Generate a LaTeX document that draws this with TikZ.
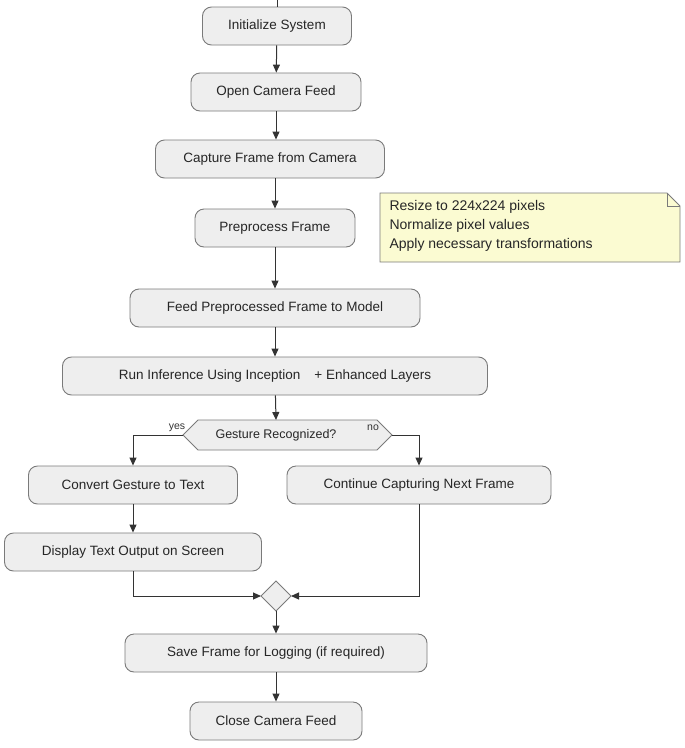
\documentclass[tikz,border=0pt]{standalone}
\usepackage{fontspec}
\setmainfont{Liberation Sans}
\usetikzlibrary{arrows.meta}
\definecolor{actfill}{HTML}{EEEEEE}
\definecolor{actline}{HTML}{7A7A7A}
\definecolor{notefill}{HTML}{FBFBD2}
\tikzset{
  act/.style={draw=actline, fill=actfill, rounded corners=9pt, line width=0.9pt,
    minimum height=38pt, inner xsep=10pt, font=\fontsize{13.5}{16}\selectfont, text=black!85},
  arrow/.style={-{Triangle[length=8pt,width=7pt]}, line width=1pt, draw=black!80},
  lbl/.style={font=\fontsize{10.5}{12}\selectfont, text=black!80}
}
\begin{document}
\begin{tikzpicture}[x=1pt,y=-1pt]
\useasboundingbox (0,0) rectangle (685,748);
\node[act, minimum width=149pt] (init) at (277,26) {Initialize System};
\node[act, minimum width=170pt] (open) at (276,92) {Open Camera Feed};
\node[act, minimum width=229pt] (cap) at (270,159) {Capture Frame from Camera};
\node[act, minimum width=160pt] (pre) at (275,228) {Preprocess Frame};
\node[act, minimum width=290pt] (feed) at (275,308) {Feed Preprocessed Frame to Model};
\node[act, minimum width=425pt] (run) at (275,376) {Run Inference Using Inception\hspace{14pt}+ Enhanced Layers};
\draw[actline, fill=actfill, line width=0.9pt] (183,435) -- (198,420) -- (377,420) -- (392,435) -- (377,450) -- (198,450) -- cycle;
\node[font=\fontsize{12.5}{14}\selectfont, text=black!85] (gest) at (276,435) {Gesture Recognized?};
\coordinate (gl) at (183,435);
\coordinate (gr) at (392,435);
\coordinate (gt) at (276,420);
\node[lbl] (yes) at (177,428) {yes};
\node[lbl] (no) at (373,428) {no};
\node[act, minimum width=209pt] (conv) at (133,485) {Convert Gesture to Text};
\node[act, minimum width=264pt] (cont) at (419,485) {Continue Capturing Next Frame};
\node[act, minimum width=257pt] (disp) at (133,552) {Display Text Output on Screen};
\draw[actline, fill=actfill, line width=0.9pt] (261,596) -- (276,581) -- (291,596) -- (276,611) -- cycle;
\coordinate (ml) at (261,596);
\coordinate (mr) at (291,596);
\coordinate (mt) at (276,611);
\node[act, minimum width=302pt] (save) at (276,653) {Save Frame for Logging (if required)};
\node[act, minimum width=172pt] (close) at (276,721) {Close Camera Feed};
% note
\draw[actline, fill=notefill, line width=0.8pt] (380,193) -- (667,193) -- (680,206) -- (680,262) -- (380,262) -- cycle;
\draw[actline, line width=0.8pt] (667,193) -- (667,206) -- (680,206);
\node[anchor=north west, align=left, font=\fontsize{14}{19}\selectfont, text=black!85] (note) at (386,197) {Resize to 224x224 pixels\\Normalize pixel values\\Apply necessary transformations};
\coordinate (top) at (277,0);
\draw[line width=1pt, draw=black!80] (top) -- (init);
\draw[arrow] (init) -- (open);
\draw[arrow] (open) -- (open|-cap.north);
\draw[arrow] (cap.south-|pre) -- (pre);
\draw[arrow] (pre) -- (feed);
\draw[arrow] (feed) -- (run);
\draw[arrow] (run) -- (gt);
\draw[arrow] (gl) -| (conv);
\draw[arrow] (gr) -| (cont);
\draw[arrow] (conv) -- (disp);
\draw[arrow] (disp) |- (ml);
\draw[arrow] (cont) |- (mr);
\draw[arrow] (mt) -- (save);
\draw[arrow] (save) -- (close);
\end{tikzpicture}
\end{document}
